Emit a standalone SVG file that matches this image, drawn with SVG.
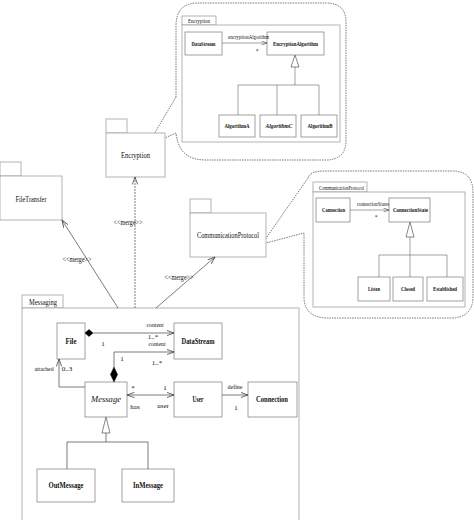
<svg xmlns="http://www.w3.org/2000/svg" width="474" height="520" viewBox="0 0 474 520">
<defs>
<marker id="oa" viewBox="0 0 8 6" refX="7.5" refY="3" markerWidth="8" markerHeight="6" markerUnits="userSpaceOnUse" orient="auto-start-reverse"><path d="M0,0.3 L7.5,3 L0,5.7" fill="none" stroke="#444" stroke-width="0.8"/></marker>
<marker id="os" viewBox="0 0 8 6" refX="7.5" refY="3" markerWidth="6" markerHeight="4.5" markerUnits="userSpaceOnUse" orient="auto"><path d="M0,0.3 L7.5,3 L0,5.7" fill="none" stroke="#555" stroke-width="0.9"/></marker>
</defs>
<style>
.box{fill:#fff;stroke:#8a8a8a;stroke-width:0.8}
.pk{fill:#fff;stroke:#a0a0a0;stroke-width:0.8}
.ln{fill:none;stroke:#444;stroke-width:0.7}
.ls{fill:none;stroke:#666;stroke-width:0.6}
.dash{fill:none;stroke:#555;stroke-width:0.8;stroke-dasharray:1.5,1}
.tri{fill:#fff;stroke:#555;stroke-width:0.7}
.dia{fill:#000;stroke:#000;stroke-width:0.5}
text{font-family:"Liberation Serif","Times New Roman",serif;fill:#111;text-anchor:middle}
.b{font-weight:bold}
.i{font-style:italic}
.t8{font-size:8px}
.t7{font-size:7px}
.t6{font-size:5.5px}
</style>
<rect x="0" y="0" width="474" height="520" fill="#fff"/>

<!-- Encryption detail callout -->
<g id="encryption-detail">
<path class="dash" d="M176,97 L147,146 L176,133 C178,150 186,160 206,160 L326,160 Q346,160 346,140 L346,22 Q346,3 326,3 L198,3 Q176,3 176,26 Z"/>
<rect class="pk" x="182" y="16" width="34" height="9"/>
<rect class="pk" x="182" y="25" width="158" height="117"/>
<text class="t6" x="199" y="23" textLength="22" lengthAdjust="spacingAndGlyphs">Encryption</text>
<g id="enc-datastream"><rect class="box" x="185" y="32" width="37" height="23"/><text class="t6 b" x="203.5" y="45.5" textLength="24" lengthAdjust="spacingAndGlyphs">DataStream</text></g>
<g id="enc-algorithm"><rect class="box" x="267" y="32" width="57" height="23"/><text class="t6 b" x="295.5" y="45.5" textLength="45" lengthAdjust="spacingAndGlyphs">EncryptionAlgorithm</text></g>
<g id="enc-algA"><rect class="box" x="219" y="115" width="36" height="22"/><text class="t6 b" x="237" y="128" textLength="25" lengthAdjust="spacingAndGlyphs">AlgorithmA</text></g>
<g id="enc-algC"><rect class="box" x="260" y="115" width="36" height="22"/><text class="t6 b i" x="279" y="128" textLength="27" lengthAdjust="spacingAndGlyphs">AlgorithmC</text></g>
<g id="enc-algB"><rect class="box" x="301" y="115" width="36" height="22"/><text class="t6 b" x="320" y="128" textLength="25" lengthAdjust="spacingAndGlyphs">AlgorithmB</text></g>
<g id="enc-connectors">
<line class="ls" x1="222" y1="43" x2="267" y2="43" marker-end="url(#os)"/>
<text class="t6" x="248.5" y="39" textLength="41" lengthAdjust="spacingAndGlyphs">encryptionAlgorithm</text>
<text class="t6" x="257" y="53">*</text>
<polygon class="tri" points="295,55 291,67 299,67"/>
<path class="ls" d="M295,67 V85 M238,85 H319 M238,85 V115 M277,85 V115 M319,85 V115"/>
</g>
</g>

<!-- CommunicationProtocol detail callout -->
<g id="comm-detail">
<path class="dash" d="M308,178 C310,172 316,171 326,171 L452,171 Q473,171 473,192 L473,296 Q473,318 451,318 L328,318 Q305,318 304,298 L304,233 L262,244 Z"/>
<rect class="pk" x="313" y="182" width="54" height="10"/>
<rect class="pk" x="313" y="192" width="152" height="115"/>
<text class="t6" x="341.5" y="189.5" textLength="45" lengthAdjust="spacingAndGlyphs">CommunicationProtocol</text>
<g id="cp-connection"><rect class="box" x="316" y="198" width="34" height="24"/><text class="t6 b" x="333.5" y="212" textLength="23" lengthAdjust="spacingAndGlyphs">Connection</text></g>
<g id="cp-state"><rect class="box" x="389" y="198" width="41" height="24"/><text class="t6 b" x="410.5" y="212" textLength="35" lengthAdjust="spacingAndGlyphs">ConnectionState</text></g>
<g id="cp-listen"><rect class="box" x="358" y="277" width="32" height="24"/><text class="t6 b" x="374" y="291" textLength="12" lengthAdjust="spacingAndGlyphs">Listen</text></g>
<g id="cp-closed"><rect class="box" x="393" y="277" width="30" height="24"/><text class="t6 b" x="408" y="291" textLength="14" lengthAdjust="spacingAndGlyphs">Closed</text></g>
<g id="cp-established"><rect class="box" x="427" y="277" width="36" height="24"/><text class="t6 b" x="445" y="291" textLength="24" lengthAdjust="spacingAndGlyphs">Established</text></g>
<g id="cp-connectors">
<line class="ls" x1="350" y1="210" x2="389" y2="210" marker-end="url(#os)"/>
<text class="t6" x="373" y="206" textLength="32" lengthAdjust="spacingAndGlyphs">connectionStates</text>
<text class="t6" x="376" y="219">*</text>
<polygon class="tri" points="410,222 406,237 414,237"/>
<path class="ls" d="M410,237 V255 M379,255 H447 M379,255 V277 M410,255 V277 M447,255 V277"/>
</g>
</g>

<!-- Packages -->
<g id="pkg-filetransfer">
<rect class="pk" x="0" y="162" width="21" height="14"/>
<rect class="pk" x="0" y="176" width="62" height="44"/>
<text class="t8" x="31" y="202" textLength="31" lengthAdjust="spacingAndGlyphs">FileTransfer</text>
</g>
<g id="pkg-encryption">
<rect class="pk" x="106" y="119" width="21" height="14"/>
<rect class="pk" x="106" y="133" width="59" height="44"/>
<text class="t8" x="135.5" y="158" textLength="29" lengthAdjust="spacingAndGlyphs">Encryption</text>
</g>
<g id="pkg-commprotocol">
<rect class="pk" x="190" y="199" width="21" height="14"/>
<rect class="pk" x="190" y="213" width="76" height="44"/>
<text class="t8" x="228" y="238" textLength="62" lengthAdjust="spacingAndGlyphs">CommunicationProtocol</text>
</g>
<g id="pkg-messaging">
<rect class="pk" x="22" y="295" width="41" height="13"/>
<rect class="pk" x="22" y="308" width="277" height="220"/>
<text class="t8" x="43" y="305" textLength="28" lengthAdjust="spacingAndGlyphs">Messaging</text>
</g>

<!-- Messaging classes -->
<g id="cls-file"><rect class="box" x="57" y="323" width="28" height="36"/><text class="t8 b" x="71" y="344" textLength="11" lengthAdjust="spacingAndGlyphs">File</text></g>
<g id="cls-datastream"><rect class="box" x="174" y="323" width="48" height="36"/><text class="t8 b" x="198" y="344" textLength="33" lengthAdjust="spacingAndGlyphs">DataStream</text></g>
<g id="cls-message"><rect class="box" x="85" y="382" width="42" height="35"/><text class="t8 i" x="106" y="402" textLength="30" lengthAdjust="spacingAndGlyphs">Message</text></g>
<g id="cls-user"><rect class="box" x="174" y="382" width="48" height="35"/><text class="t8 b" x="198" y="402" textLength="11" lengthAdjust="spacingAndGlyphs">User</text></g>
<g id="cls-connection"><rect class="box" x="248" y="382" width="49" height="35"/><text class="t8 b" x="272" y="402" textLength="32" lengthAdjust="spacingAndGlyphs">Connection</text></g>
<g id="cls-outmessage"><rect class="box" x="37" y="469" width="58" height="33"/><text class="t8 b" x="66" y="488" textLength="35" lengthAdjust="spacingAndGlyphs">OutMessage</text></g>
<g id="cls-inmessage"><rect class="box" x="122" y="469" width="52" height="33"/><text class="t8 b" x="148" y="488" textLength="30" lengthAdjust="spacingAndGlyphs">InMessage</text></g>

<!-- Connectors -->
<g id="connectors">
<line class="ln" x1="118" y1="308" x2="62" y2="220" marker-end="url(#oa)"/>
<text class="t8" x="77" y="262" textLength="29" lengthAdjust="spacingAndGlyphs">&lt;&lt;merge&gt;&gt;</text>
<line class="ln" x1="135" y1="308" x2="135" y2="177" stroke-dasharray="2,1" marker-end="url(#oa)"/>
<text class="t8" x="128" y="225" textLength="29" lengthAdjust="spacingAndGlyphs">&lt;&lt;merge&gt;&gt;</text>
<line class="ln" x1="156" y1="308" x2="215" y2="257" marker-end="url(#oa)"/>
<text class="t8" x="179" y="280" textLength="29" lengthAdjust="spacingAndGlyphs">&lt;&lt;merge&gt;&gt;</text>

<polygon class="dia" points="85,333 89,329.5 93,333 89,336.5"/>
<line class="ln" x1="93" y1="333" x2="174" y2="333" marker-end="url(#oa)"/>
<text class="t7" x="155" y="327" textLength="17" lengthAdjust="spacingAndGlyphs">content</text>
<text class="t7" x="153" y="339">1..*</text>
<text class="t7" x="103" y="346">1</text>

<polygon class="dia" points="114,382 110.5,374.5 114,367 117.5,374.5"/>
<path class="ln" d="M114,367 V352 H174" marker-end="url(#oa)"/>
<text class="t7" x="157" y="346" textLength="17" lengthAdjust="spacingAndGlyphs">content</text>
<text class="t7" x="157" y="365">1..*</text>
<text class="t7" x="122" y="361">1</text>

<line class="ln" x1="127" y1="395" x2="174" y2="395" marker-start="url(#oa)" marker-end="url(#oa)"/>
<text class="t7" x="133" y="390">*</text>
<text class="t7" x="165" y="390">1</text>
<text class="t7" x="135" y="409">has</text>
<text class="t7" x="163" y="408">user</text>

<line class="ln" x1="222" y1="395" x2="248" y2="395" marker-end="url(#oa)"/>
<text class="t7" x="235" y="389" textLength="15" lengthAdjust="spacingAndGlyphs">define</text>
<text class="t7" x="236" y="410">1</text>

<path class="ln" d="M85,387 H59 V359" marker-end="url(#oa)"/>
<text class="t7" x="44" y="371" textLength="19" lengthAdjust="spacingAndGlyphs">attached</text>
<text class="t7" x="67" y="371">0..3</text>

<polygon class="tri" points="106,417 102,433 110,433"/>
<path class="ln" d="M106,433 V442 M67,442 H148 M67,442 V469 M148,442 V469"/>
</g>
</svg>
